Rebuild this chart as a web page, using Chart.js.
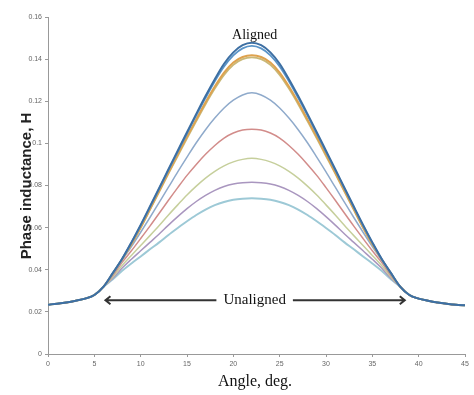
<!DOCTYPE html>
<html>
<head>
<meta charset="utf-8">
<script src="https://cdn.jsdelivr.net/npm/chart.js@4/dist/chart.umd.min.js"></script>
<style>
  html, body { margin: 0; padding: 0; background: #fff; }
  #wrap { width: 474px; height: 395px; }
</style>
</head>
<body>
<div id="wrap"><canvas id="myChart" width="474" height="395"></canvas></div>
<script>
// rotor angle, deg.
var angles = [0,1,2,3,4,5,6,7,8,9,10,11,12,13,14,15,16,17,18,19,20,21,22,23,24,25,26,27,28,29,30,31,32,33,34,35,36,37,38,39,40,41,42,43,44,45];

// phase inductance, H (one curve per current level)
var L1 = [0.0234,0.0239,0.0245,0.0253,0.0263,0.0280,0.0320,0.0385,0.0452,0.0530,0.0613,0.0700,0.0788,0.0877,0.0965,0.1053,0.1140,0.1225,0.1305,0.1378,0.1432,0.1466,0.1478,0.1466,0.1432,0.1378,0.1305,0.1225,0.1140,0.1053,0.0965,0.0877,0.0788,0.0700,0.0613,0.0530,0.0452,0.0385,0.0320,0.0280,0.0263,0.0253,0.0245,0.0239,0.0234,0.0231];
var L2 = [0.0234,0.0239,0.0245,0.0253,0.0263,0.0280,0.0320,0.0384,0.0451,0.0528,0.0610,0.0697,0.0785,0.0873,0.0960,0.1047,0.1133,0.1216,0.1295,0.1365,0.1418,0.1451,0.1463,0.1451,0.1418,0.1365,0.1295,0.1216,0.1133,0.1047,0.0960,0.0873,0.0785,0.0697,0.0610,0.0528,0.0451,0.0384,0.0320,0.0280,0.0263,0.0253,0.0245,0.0239,0.0234,0.0231];
var L3 = [0.0234,0.0239,0.0245,0.0253,0.0263,0.0280,0.0320,0.0383,0.0450,0.0522,0.0602,0.0688,0.0775,0.0862,0.0948,0.1032,0.1114,0.1195,0.1270,0.1336,0.1384,0.1410,0.1418,0.1410,0.1384,0.1336,0.1270,0.1195,0.1114,0.1032,0.0948,0.0862,0.0775,0.0688,0.0602,0.0522,0.0450,0.0383,0.0320,0.0280,0.0263,0.0253,0.0245,0.0239,0.0234,0.0231];
var L4 = [0.0234,0.0239,0.0245,0.0253,0.0263,0.0280,0.0320,0.0382,0.0449,0.0520,0.0599,0.0684,0.0770,0.0856,0.0940,0.1024,0.1106,0.1186,0.1260,0.1325,0.1373,0.1400,0.1408,0.1400,0.1373,0.1325,0.1260,0.1186,0.1106,0.1024,0.0940,0.0856,0.0770,0.0684,0.0599,0.0520,0.0449,0.0382,0.0320,0.0280,0.0263,0.0253,0.0245,0.0239,0.0234,0.0231];
var L5 = [0.0234,0.0239,0.0245,0.0253,0.0263,0.0280,0.0320,0.0378,0.0445,0.0510,0.0578,0.0648,0.0720,0.0792,0.0865,0.0935,0.1003,0.1065,0.1120,0.1168,0.1205,0.1230,0.1240,0.1230,0.1205,0.1168,0.1120,0.1065,0.1003,0.0935,0.0865,0.0792,0.0720,0.0648,0.0578,0.0510,0.0445,0.0378,0.0320,0.0280,0.0263,0.0253,0.0245,0.0239,0.0234,0.0231];
var L6 = [0.0234,0.0239,0.0245,0.0253,0.0263,0.0280,0.0320,0.0372,0.0435,0.0490,0.0548,0.0607,0.0668,0.0730,0.0790,0.0848,0.0900,0.0948,0.0990,0.1025,0.1049,0.1063,0.1067,0.1063,0.1049,0.1025,0.0990,0.0948,0.0900,0.0848,0.0790,0.0730,0.0668,0.0607,0.0548,0.0490,0.0435,0.0372,0.0320,0.0280,0.0263,0.0253,0.0245,0.0239,0.0234,0.0231];
var L7 = [0.0234,0.0239,0.0245,0.0253,0.0263,0.0280,0.0320,0.0366,0.0420,0.0468,0.0515,0.0562,0.0610,0.0660,0.0708,0.0755,0.0797,0.0835,0.0867,0.0893,0.0912,0.0924,0.0929,0.0924,0.0912,0.0893,0.0867,0.0835,0.0797,0.0755,0.0708,0.0660,0.0610,0.0562,0.0515,0.0468,0.0420,0.0366,0.0320,0.0280,0.0263,0.0253,0.0245,0.0239,0.0234,0.0231];
var L8 = [0.0234,0.0239,0.0245,0.0253,0.0263,0.0280,0.0320,0.0360,0.0408,0.0450,0.0490,0.0530,0.0570,0.0612,0.0652,0.0690,0.0724,0.0753,0.0777,0.0795,0.0807,0.0813,0.0815,0.0813,0.0807,0.0795,0.0777,0.0753,0.0724,0.0690,0.0652,0.0612,0.0570,0.0530,0.0490,0.0450,0.0408,0.0360,0.0320,0.0280,0.0263,0.0253,0.0245,0.0239,0.0234,0.0231];
var L9 = [0.0234,0.0239,0.0245,0.0253,0.0263,0.0280,0.0320,0.0355,0.0395,0.0430,0.0463,0.0497,0.0530,0.0565,0.0598,0.0630,0.0660,0.0686,0.0707,0.0722,0.0732,0.0737,0.0739,0.0737,0.0732,0.0722,0.0707,0.0686,0.0660,0.0630,0.0598,0.0565,0.0530,0.0497,0.0463,0.0430,0.0395,0.0355,0.0320,0.0280,0.0263,0.0253,0.0245,0.0239,0.0234,0.0231];

var curves = [L1, L2, L3, L4, L5, L6, L7, L8, L9];
var colors = ['#3d6fa3', '#5a94c8', '#dea24e', '#c9b877', '#8faacb', '#d28c8a', '#c6cf9c', '#a996bf', '#9dc9d6'];
var widths = [2, 1.8, 2, 1.8, 1.5, 1.5, 1.5, 1.5, 2];

var xTicks = [0, 5, 10, 15, 20, 25, 30, 35, 40, 45];
var yTicks = ['0', '0.02', '0.04', '0.06', '0.08', '0.1', '0.12', '0.14', '0.16'];

var datasets = curves.map(function (c, i) {
  return {
    data: c.map(function (v, j) { return { x: angles[j], y: v }; }),
    borderColor: colors[i],
    borderWidth: widths[i],
    pointRadius: 0,
    fill: false,
    cubicInterpolationMode: 'monotone'
  };
});

var labelsPlugin = {
  id: 'labels',
  afterDraw: function (chart) {
    var c = chart.ctx, xs = chart.scales.x, ys = chart.scales.y;
    c.save();
    c.fillStyle = '#111';
    c.textAlign = 'center';
    c.textBaseline = 'middle';

    // axis titles
    c.font = '16px "Liberation Serif"';
    c.fillText('Angle, deg.', 255, 382);
    c.save();
    c.translate(27, 186);
    c.rotate(-Math.PI / 2);
    c.font = 'bold 15px "Liberation Sans"';
    c.fillStyle = '#222';
    c.fillText('Phase inductance, H', 0, 0);
    c.restore();

    // Aligned
    c.font = '14px "Liberation Serif"';
    c.fillText('Aligned', xs.getPixelForValue(22.3), ys.getPixelForValue(0.1515));

    // Unaligned with double arrow
    var yA = ys.getPixelForValue(0.0255);
    var x0 = xs.getPixelForValue(6.2), x1 = xs.getPixelForValue(38.5);
    var xm = xs.getPixelForValue(22.3);
    c.font = '15px "Liberation Serif"';
    c.fillText('Unaligned', xm, yA);
    var tw = c.measureText('Unaligned').width / 2 + 7;
    c.strokeStyle = '#333';
    c.lineWidth = 2;
    c.beginPath();
    c.moveTo(x0, yA); c.lineTo(xm - tw, yA);
    c.moveTo(xm + tw, yA); c.lineTo(x1, yA);
    c.moveTo(x0 + 5, yA - 4); c.lineTo(x0, yA); c.lineTo(x0 + 5, yA + 4);
    c.moveTo(x1 - 5, yA - 4); c.lineTo(x1, yA); c.lineTo(x1 - 5, yA + 4);
    c.stroke();
    c.restore();
  }
};

var ctx = document.getElementById('myChart').getContext('2d');
var myChart = new Chart(ctx, {
  type: 'line',
  data: { datasets: datasets },
  options: {
    responsive: false,
    animation: false,
    layout: { padding: { left: 0, right: 9, top: 17, bottom: 0 } },
    plugins: { legend: { display: false }, tooltip: { enabled: false } },
    scales: {
      x: {
        type: 'linear',
        min: 0,
        max: 45,
        afterFit: function (s) { s.height = 41; },
        afterBuildTicks: function (s) { s.ticks = xTicks.map(function (v) { return { value: v }; }); },
        ticks: { font: { size: 7, family: 'Liberation Sans' }, color: '#666', maxRotation: 0, padding: 3 },
        grid: { drawOnChartArea: false, tickLength: 3, color: '#999' },
        border: { color: '#999' }
      },
      y: {
        min: 0,
        max: 0.16,
        afterFit: function (s) { s.width = 48; },
        afterBuildTicks: function (s) { s.ticks = yTicks.map(function (v) { return { value: Number(v) }; }); },
        ticks: {
          font: { size: 7, family: 'Liberation Sans' }, color: '#666', padding: 3,
          callback: function (v, i) { return yTicks[i]; }
        },
        grid: { drawOnChartArea: false, tickLength: 3, color: '#999' },
        border: { color: '#999' }
      }
    }
  },
  plugins: [labelsPlugin]
});
</script>
</body>
</html>
